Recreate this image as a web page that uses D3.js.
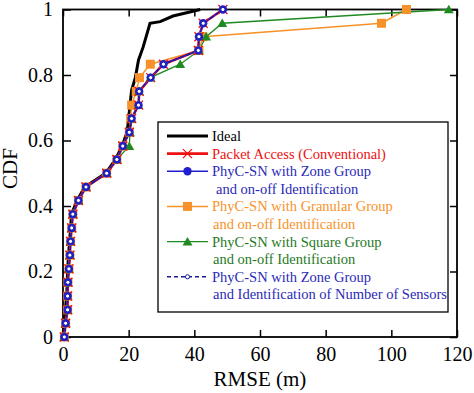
<!DOCTYPE html>
<html>
<head>
<meta charset="utf-8">
<script src="https://cdn.jsdelivr.net/npm/d3@7"></script>
<style>
  html, body { margin: 0; padding: 0; background: #fff; }
  svg { display: block; }
  text { font-family: "Liberation Serif", "Times New Roman", serif; }
</style>
</head>
<body>
<div id="chart"></div>
<script>
// ---- data ----
const cdfLevels = [0, 0.042, 0.083, 0.125, 0.167, 0.208, 0.25, 0.292, 0.333, 0.375, 0.417, 0.458,
                   0.5, 0.542, 0.583, 0.625, 0.667, 0.708, 0.75, 0.792, 0.833, 0.875, 0.917, 0.958, 1.0];

const idealX   = [0, 0.3, 0.7, 1.1, 1.3, 1.4, 1.7, 2.0, 2.3, 2.6, 4.3, 6.6, 13.0, 16.0, 18.0, 19.5, 20.0, 20.4, 20.9, 22.0, 23.0, 24.4, 26.5, 29.6, 33.5, 41.8];
const idealCdf = [0, 0.042, 0.083, 0.125, 0.167, 0.208, 0.25, 0.292, 0.333, 0.375, 0.417, 0.458, 0.5, 0.542, 0.583, 0.625, 0.667, 0.708, 0.754, 0.79, 0.846, 0.885, 0.958, 0.963, 0.98, 1.0];

const packetAccessX = [0.4, 0.8, 1.4, 1.4, 1.5, 1.8, 2.1, 2.3, 2.65, 3.0, 4.7, 7.0, 13.3, 16.4, 18.2, 20.2, 20.9, 23.0, 23.2, 26.7, 30.6, 41.2, 41.4, 42.7, 48.7];
const zoneOnOffX    = [0.4, 0.8, 1.4, 1.4, 1.5, 1.8, 2.1, 2.3, 2.65, 3.0, 4.7, 7.0, 13.3, 16.4, 18.2, 20.2, 20.9, 23.0, 23.2, 26.7, 30.6, 41.2, 41.4, 42.7, 48.7];
const granularX     = [0.4, 0.8, 1.4, 1.4, 1.5, 1.8, 2.1, 2.3, 2.65, 3.0, 4.7, 7.0, 13.3, 16.4, 18.2, 20.2, 20.6, 20.9, 22.3, 23.3, 26.6, 41.4, 42.6, 97.0, 104.6];
const squareX       = [0.4, 0.8, 1.4, 1.4, 1.5, 1.8, 2.1, 2.3, 2.65, 3.0, 4.7, 7.0, 13.3, 16.4, 20.2, 20.4, 20.9, 23.0, 23.2, 26.6, 35.7, 41.4, 43.6, 48.5, 117.5];
const zoneNumberX   = [0.4, 0.8, 1.4, 1.4, 1.5, 1.8, 2.1, 2.3, 2.65, 3.0, 4.7, 7.0, 13.3, 16.4, 18.2, 20.2, 20.9, 23.0, 23.2, 26.7, 30.6, 41.2, 41.4, 42.7, 48.7];

const xTicks = [0, 20, 40, 60, 80, 100, 120];
const yTicks = [0, 0.2, 0.4, 0.6, 0.8, 1];
const yTickLabels = ["0", "0.2", "0.4", "0.6", "0.8", "1"];

const legendLabels = [
  ["Ideal"],
  ["Packet Access (Conventional)"],
  ["PhyC-SN with Zone Group", "and on-off Identification"],
  ["PhyC-SN with Granular Group", "and on-off Identification"],
  ["PhyC-SN with Square Group", "and on-off Identification"],
  ["PhyC-SN with Zone Group", "and Identification of Number of Sensors"]
];

// ---- drawing ----
const W = 474, H = 393;
const svg = d3.select("#chart").append("svg").attr("width", W).attr("height", H);

const x = d3.scaleLinear().domain([0, 120]).range([63, 457]);
const y = d3.scaleLinear().domain([0, 1]).range([337, 9.5]);

const colors = {
  ideal: "#000000",
  packet: "#ee1111",
  zone: "#1f1fd0",
  granular: "#f7922a",
  square: "#1f8a1f",
  number: "#1a1a9a"
};

// axes
const fontTick = 20;
const gB = svg.append("g").attr("transform", `translate(0,${y(0)})`)
  .call(d3.axisBottom(x).tickValues(xTicks).tickFormat(d3.format("d")).tickSizeInner(-7).tickSizeOuter(0).tickPadding(10));
const gL = svg.append("g").attr("transform", `translate(${x(0)},0)`)
  .call(d3.axisLeft(y).tickValues(yTicks).tickFormat((d, i) => yTickLabels[i]).tickSizeInner(-8).tickSizeOuter(0).tickPadding(10));
const gT = svg.append("g").attr("transform", `translate(0,${y(1)})`)
  .call(d3.axisTop(x).tickValues(xTicks).tickFormat("").tickSizeInner(-7).tickSizeOuter(0));
const gR = svg.append("g").attr("transform", `translate(${x(120)},0)`)
  .call(d3.axisRight(y).tickValues(yTicks).tickFormat("").tickSizeInner(-7).tickSizeOuter(0));
[gB, gL, gT, gR].forEach(g => {
  g.select(".domain").remove();
  g.selectAll(".tick line").attr("stroke", "#000").attr("stroke-width", 1.5);
  g.selectAll("text").attr("font-size", fontTick).attr("fill", "#000")
    .attr("font-family", '"Liberation Serif", "Times New Roman", serif');
});

// frame
svg.append("rect")
  .attr("x", x(0)).attr("y", y(1))
  .attr("width", x(120) - x(0)).attr("height", y(0) - y(1))
  .attr("fill", "none").attr("stroke", "#000").attr("stroke-width", 1.8);

// axis titles
svg.append("text").attr("x", x(60)).attr("y", 386).attr("text-anchor", "middle")
  .attr("font-size", 21).text("RMSE (m)");
svg.append("text").attr("transform", "translate(17,168.5) rotate(-90)").attr("text-anchor", "middle")
  .attr("font-size", 21).text("CDF");

const line = d3.line().x(d => x(d[0])).y(d => y(d[1]));
const plot = svg.append("g");

function pts(xs) { return xs.map((v, i) => [v, cdfLevels[i]]); }

// markers
function drawMarker(g, type, cx, cy, color) {
  if (type === "square") {
    g.append("rect").attr("x", cx - 4.5).attr("y", cy - 4.5).attr("width", 9).attr("height", 9).attr("fill", color);
  } else if (type === "triangle") {
    g.append("path").attr("d", d3.symbol(d3.symbolTriangle, 42)()).attr("transform", `translate(${cx},${cy + 1})`).attr("fill", color);
  } else if (type === "x") {
    g.append("path").attr("d", `M${cx - 4.5},${cy - 4.5}L${cx + 4.5},${cy + 4.5}M${cx - 4.5},${cy + 4.5}L${cx + 4.5},${cy - 4.5}`)
      .attr("stroke", color).attr("stroke-width", 1.3).attr("fill", "none");
  } else if (type === "circle") {
    g.append("circle").attr("cx", cx).attr("cy", cy).attr("r", 4.2).attr("fill", color);
  } else if (type === "open") {
    g.append("circle").attr("cx", cx).attr("cy", cy).attr("r", 2.1).attr("fill", "#fff").attr("stroke", color).attr("stroke-width", 1);
  }
}

// Ideal
plot.append("path").datum(idealX.map((v, i) => [v, idealCdf[i]])).attr("d", line)
  .attr("fill", "none").attr("stroke", colors.ideal).attr("stroke-width", 3);

const series = [
  { xs: granularX, color: colors.granular, width: 1.5, marker: "square" },
  { xs: squareX, color: colors.square, width: 1.3, marker: "triangle" },
  { xs: packetAccessX, color: colors.packet, width: 2.6, marker: "x" },
  { xs: zoneOnOffX, color: colors.zone, width: 1.5, marker: "circle" },
  { xs: zoneNumberX, color: colors.number, width: 1.4, marker: "open", dash: "4,3" }
];
series.forEach(s => {
  const p = pts(s.xs);
  plot.append("path").datum(p).attr("d", line).attr("fill", "none")
    .attr("stroke", s.color).attr("stroke-width", s.width).attr("stroke-dasharray", s.dash || null);
});
series.forEach(s => {
  const g = plot.append("g");
  pts(s.xs).forEach(d => drawMarker(g, s.marker, x(d[0]), y(d[1]), s.color));
});

// legend
const lg = svg.append("g");
lg.append("rect").attr("x", 158).attr("y", 122).attr("width", 290).attr("height", 190)
  .attr("fill", "#fff").attr("stroke", "#000").attr("stroke-width", 1.3);

const legendItems = [
  { color: colors.ideal, width: 3, marker: null, textColor: "#000" },
  { color: colors.packet, width: 2.6, marker: "x", textColor: "#ee1111" },
  { color: colors.zone, width: 1.5, marker: "circle", textColor: "#2a2ab8" },
  { color: colors.granular, width: 1.5, marker: "square", textColor: "#f7922a" },
  { color: colors.square, width: 1.3, marker: "triangle", textColor: "#1f7a1f" },
  { color: colors.number, width: 1.4, marker: "open", dash: "4,3", textColor: "#2a2ab8" }
];
const rowStep = 17.6;
let row = 0;
legendItems.forEach((it, k) => {
  const cy = 136 + row * rowStep;
  lg.append("line").attr("x1", 167).attr("x2", 208).attr("y1", cy).attr("y2", cy)
    .attr("stroke", it.color).attr("stroke-width", it.width).attr("stroke-dasharray", it.dash || null);
  if (it.marker === "open") {
    drawMarker(lg, "open", 187.5, cy, it.color);
  } else if (it.marker) {
    drawMarker(lg, it.marker, 187.5, cy, it.color);
  }
  legendLabels[k].forEach((t, j) => {
    lg.append("text").attr("x", j === 0 ? 212 : (k === 2 ? 216 : 213)).attr("y", cy + (j * rowStep) + 5)
      .attr("font-size", 14.5).attr("fill", it.textColor).text(t);
  });
  row += legendLabels[k].length;
});
</script>
</body>
</html>
